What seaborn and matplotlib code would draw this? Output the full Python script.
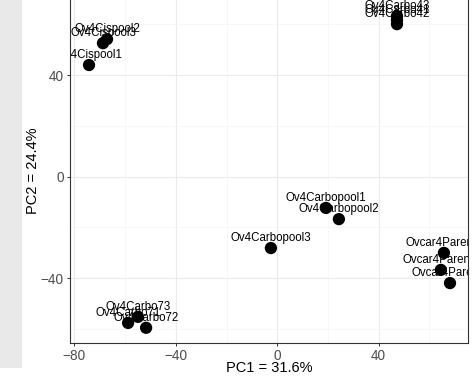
import pandas as pd
import matplotlib.pyplot as plt
from matplotlib.patches import Rectangle
from matplotlib.ticker import MultipleLocator
import seaborn as sns

# PCA scores
samples = ['Ov4Cispool1', 'Ov4Cispool2', 'Ov4Cispool3',
           'Ov4Carbo43', 'Ov4Carbo41', 'Ov4Carbo42',
           'Ov4Carbopool1', 'Ov4Carbopool2', 'Ov4Carbopool3',
           'Ovcar4Parent1', 'Ovcar4Parent2', 'Ovcar4Parent3',
           'Ov4Carbo73', 'Ov4Carbo71', 'Ov4Carbo72']
pc1 = [-74.2, -67.1, -68.7,
       47.2, 47.2, 47.2,
       19.2, 24.3, -2.5,
       65.7, 64.5, 68.1,
       -54.9, -58.8, -51.7]
pc2 = [44.0, 54.2, 52.6,
       63.3, 61.7, 60.1,
       -12.3, -16.7, -28.1,
       -30.0, -36.7, -41.9,
       -55.2, -57.6, -59.5]
xlabel = 'PC1 = 31.6%'
ylabel = 'PC2 = 24.4%'

df = pd.DataFrame({'sample': samples, 'PC1': pc1, 'PC2': pc2})

sns.set_theme(style='white')
plt.rcParams['font.family'] = ['Liberation Sans', 'DejaVu Sans']

W, H = 474, 379
fig = plt.figure(figsize=(W / 100, H / 100), dpi=100)

# grey strip on the left edge
fig.patches.append(Rectangle((0, 11 / H), 22 / W, 1 - 11 / H, transform=fig.transFigure,
                             facecolor='#e9e9e9', edgecolor='none', zorder=0))

ax = fig.add_axes([70 / W, 36 / H, 397.5 / W, 345 / H])

# labels first, points drawn over them
for _, r in df.iterrows():
    ax.annotate(r['sample'], (r['PC1'], r['PC2']), xytext=(0, 7.2), textcoords='offset points',
                ha='center', va='center', fontsize=8.3, color='black', clip_on=True, zorder=2)

sns.scatterplot(data=df, x='PC1', y='PC2', s=78, color='black', edgecolor='none',
                ax=ax, zorder=3, legend=False)

ax.set_xlim(-81.7, 75.0)
ax.set_ylim(-65.5, 70.4)
ax.xaxis.set_major_locator(MultipleLocator(40))
ax.yaxis.set_major_locator(MultipleLocator(40))
ax.xaxis.set_minor_locator(MultipleLocator(20))
ax.yaxis.set_minor_locator(MultipleLocator(20))
ax.grid(which='major', color='#ebebeb', linewidth=0.8, zorder=0)
ax.grid(which='minor', color='#f4f4f4', linewidth=0.5, zorder=0)
ax.set_axisbelow(True)

for s in ax.spines.values():
    s.set_color('#333333')
    s.set_linewidth(0.8)
    s.set_visible(True)

ax.tick_params(axis='both', which='major', length=2.5, width=0.7, color='#333333',
               labelsize=9.8, labelcolor='#4d4d4d', pad=2, bottom=True, left=True)
ax.tick_params(axis='both', which='minor', length=0)

ax.set_xlabel(xlabel, fontsize=10.5, color='black')
ax.set_ylabel(ylabel, fontsize=10.5, color='black')
ax.xaxis.set_label_coords(0.5, -(368 - 343) / 345)
ax.yaxis.set_label_coords(-(70 - 33) / 397.5, (345 - 2 - 171) / 345)
ax.xaxis.label.set_va('center')
ax.yaxis.label.set_va('center')

fig.savefig('out.png', dpi=100)
